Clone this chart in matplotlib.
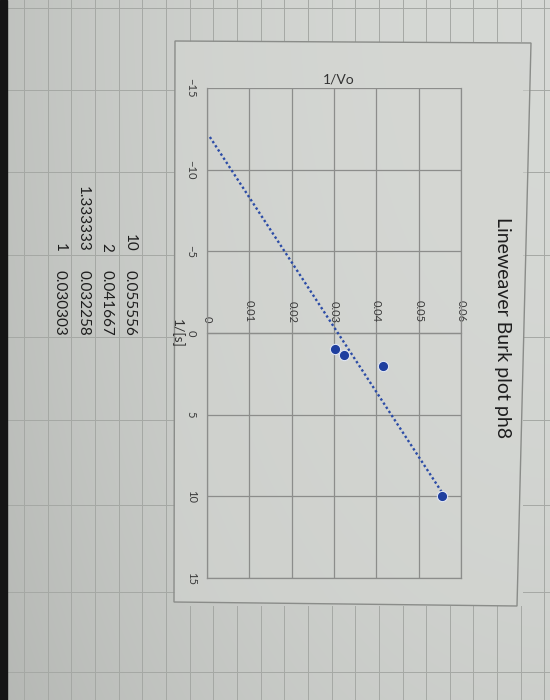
import numpy as np
import matplotlib
matplotlib.use("Agg")
import matplotlib.pyplot as plt
from matplotlib.patches import Rectangle, Polygon

# values from the worksheet (1/[S], 1/Vo)
s_inv = [10, 2, 1.333333, 1]
v_inv = [0.055556, 0.041667, 0.032258, 0.030303]

s_ticks = [-15, -10, -5, 0, 5, 10, 15]
v_ticks = [0, 0.01, 0.02, 0.03, 0.04, 0.05, 0.06]
v_tick_labels = ["0", "0.01", "0.02", "0.03", "0.04", "0.05", "0.06"]

title = "Lineweaver Burk plot ph8"
trend_start = -12  # linear trendline, forecast backward to here

plt.rcParams["font.family"] = ["Lato", "DejaVu Sans"]


def excel_general(v):
    return f"{v:.6f}".rstrip("0").rstrip(".")


fig = plt.figure(figsize=(5.5, 7), dpi=100)

# the photographed screen, everything turned 90 degrees
bg = fig.add_axes([0, 0, 1, 1])
yy, xx = np.mgrid[0:700, 0:550]
shade = 0.85 - 0.09 * (1 - xx / 550) ** 2 - 0.04 * (yy / 700) ** 2
img = np.dstack([shade - 0.01, shade, shade - 0.014]).clip(0, 1)
bg.imshow(img, extent=(0, 550, 700, 0), aspect="auto", zorder=0)
bg.set_xlim(0, 550)
bg.set_ylim(700, 0)
bg.axis("off")

# sheet cell lines, hidden behind the chart box
box = [(175, 41), (531, 43), (517, 606), (174, 602)]
box_l, box_t, box_r, box_b = 174, 41, 531, 606
cell_col = "#a5a8a4"
for k in range(-7, 17):
    x = 166 + 23.65 * k
    if x < 0 or x > 550:
        continue
    if box_l < x < box_r:
        bg.plot([x, x], [0, box_t], color=cell_col, lw=0.7, zorder=1)
        bg.plot([x, x], [box_b, 700], color=cell_col, lw=0.7, zorder=1)
    else:
        bg.plot([x, x], [0, 700], color=cell_col, lw=0.7, zorder=1)
for y in [8, 90, 172, 255, 337, 420, 505, 592, 672]:
    if box_t < y < box_b:
        bg.plot([0, box_l], [y, y], color=cell_col, lw=0.7, zorder=1)
        bg.plot([box_r - 8, 550], [y, y], color=cell_col, lw=0.7, zorder=1)
    else:
        bg.plot([0, 550], [y, y], color=cell_col, lw=0.7, zorder=1)

bg.add_patch(Polygon(box, closed=True, facecolor=(0.83, 0.84, 0.825, 0.55),
                     edgecolor="#8a8c89", lw=1.0, zorder=2))
bg.add_patch(Rectangle((0, 0), 7, 700, color="#151515", zorder=2))

# the little data table on the sheet
for i, (s, v) in enumerate(zip(s_inv, v_inv)):
    x = 130 - 23.4 * i
    bg.text(x, 252, excel_general(s), rotation=-90, ha="center", va="bottom",
            fontsize=11, color="#1e1e1e", zorder=3)
    bg.text(x, 336, excel_general(v), rotation=-90, ha="center", va="bottom",
            fontsize=11, color="#1e1e1e", zorder=3)

bg.text(502, 328, title, rotation=-90, ha="center", va="center",
        fontsize=14, color="#1e1e1e", zorder=3)

# chart itself: 1/Vo across, 1/[S] downwards
ax = fig.add_axes([207 / 550, 122 / 700, 254 / 550, 490 / 700])
ax.set_facecolor("none")
ax.set_zorder(5)
ax.set_xlim(0, 0.06)
ax.set_ylim(15, -15)
ax.set_xticks(v_ticks, v_tick_labels)
ax.set_yticks(s_ticks)
ax.grid(True, color="#8c8d8b", lw=0.9)
ax.set_axisbelow(True)
for sp in ax.spines.values():
    sp.set_color("#8c8d8b")
    sp.set_linewidth(0.9)
ax.spines["top"].set_position(("data", 0))
ax.xaxis.tick_top()
ax.tick_params(axis="x", length=0, pad=7.5, labelrotation=-90, labelsize=8,
               labelcolor="#3a3a3a")
ax.tick_params(axis="y", length=0, pad=7.5, labelrotation=-90, labelsize=8,
               labelcolor="#3a3a3a")
for lbl in ax.get_yticklabels():
    lbl.set_va("center")

ax.set_xlabel("1/Vo", fontsize=10, color="#333333")
ax.xaxis.set_label_position("top")
ax.xaxis.set_label_coords(0.52, 1 + 8 / 490)
ax.xaxis.label.set_va("center")

ax.set_ylabel("1/[s]", rotation=-90, fontsize=10, color="#333333")
ax.yaxis.set_label_coords((177 - 207) / 254, 0.5)
ax.yaxis.label.set_va("center")
ax.yaxis.label.set_ha("center")

slope, icpt = np.polyfit(s_inv, v_inv, 1)
xs = np.array([trend_start, max(s_inv)])
ax.plot(slope * xs + icpt, xs, ls=(0, (1, 1.1)), lw=1.7, color="#2c4ca6",
        zorder=3, clip_on=False)
ax.scatter(v_inv, s_inv, s=55, color="#1f3f9f", edgecolors="#e2e7f2",
           linewidths=0.8, zorder=4, clip_on=False)

fig.savefig("out.png", dpi=100)
